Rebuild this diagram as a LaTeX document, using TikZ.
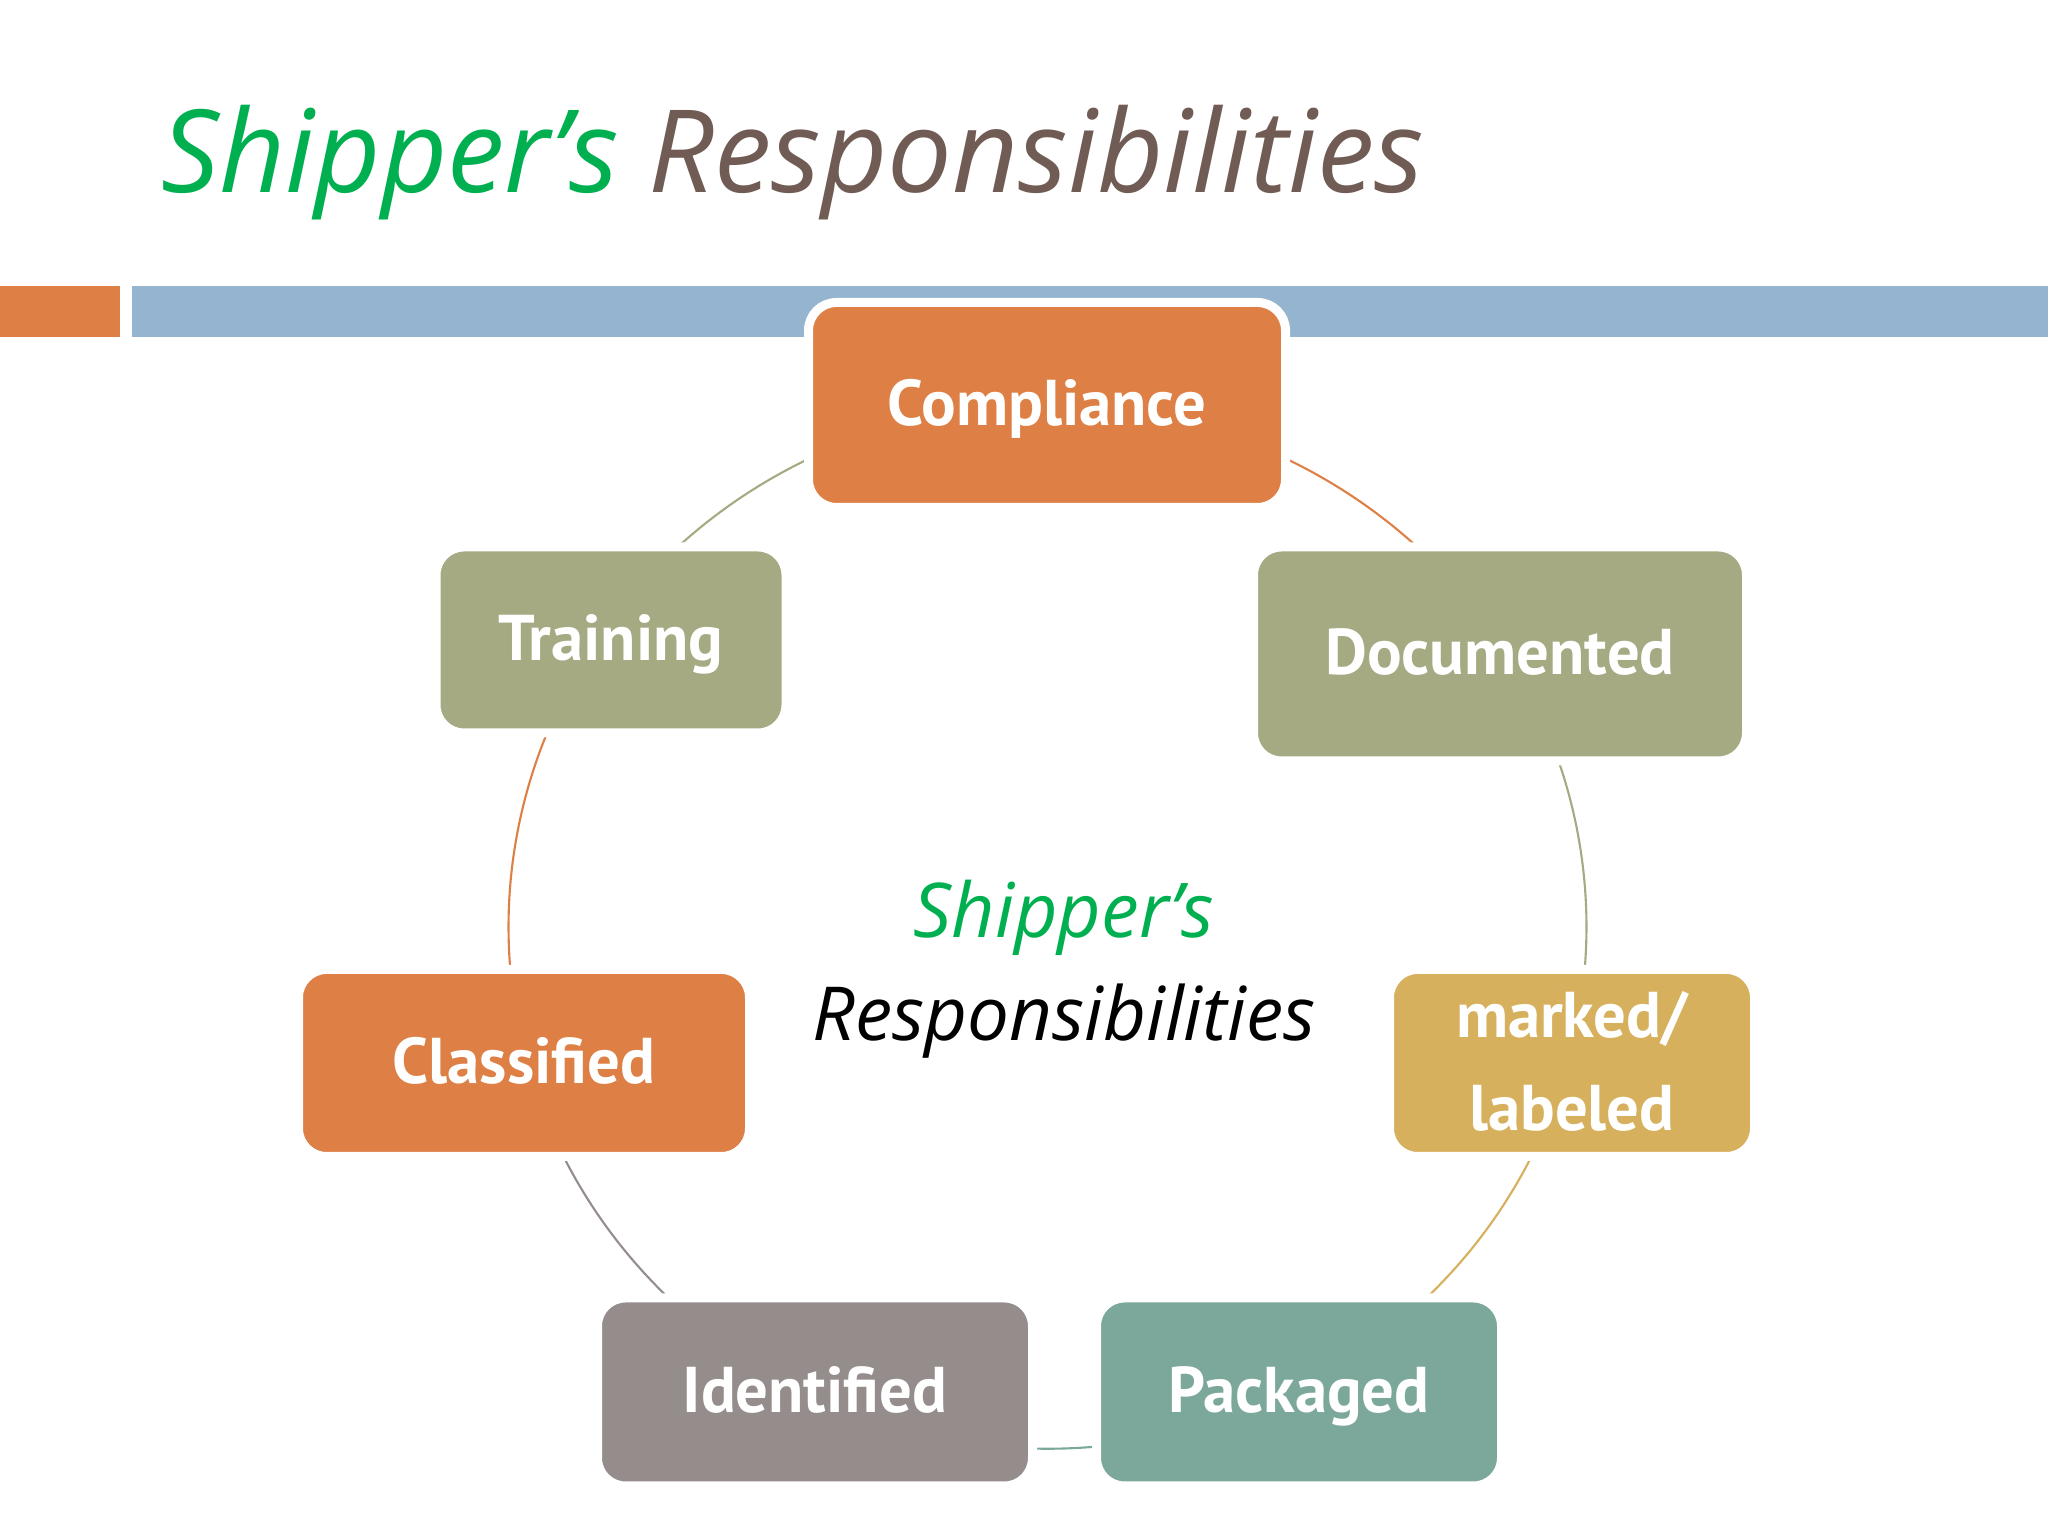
\documentclass[tikz,border=0pt]{standalone}
\usepackage{fontspec}
\newfontfamily\boxfont{PT Sans}
\newfontfamily\handfont{Open Sans}

\definecolor{corange}{HTML}{DE8046}
\definecolor{colive}{HTML}{A5AA82}
\definecolor{cgold}{HTML}{D6B05C}
\definecolor{cteal}{HTML}{7CA89B}
\definecolor{cgray}{HTML}{958C8C}
\definecolor{cbar}{HTML}{94B4CF}
\definecolor{cgreen}{HTML}{00B050}
\definecolor{cbrown}{HTML}{705C54}

\tikzset{
  etape/.style={draw=white, line width=0.9mm, rounded corners=0.28cm,
    inner sep=0pt, text=white, align=center,
    text height=0.58cm, text depth=0.16cm,
    font=\boxfont\bfseries\fontsize{18.4}{26.7}\selectfont},
  lien/.style={line width=0.6pt},
  main/.style={font=\handfont\itshape, inner sep=0pt}
}

\begin{document}
\begin{tikzpicture}

% =========================
% FOND ET BANDEAU
% =========================

\fill[white] (0,0) rectangle (20.48,15.36);
\useasboundingbox (0,0) rectangle (20.48,15.36);

\fill[corange] (0,11.99) rectangle (1.20,12.50);
\fill[cbar] (1.32,11.99) rectangle (20.48,12.50);

% =========================
% TITRE
% =========================

\node[main, anchor=base west, font=\handfont\itshape\fontsize{32.7}{38}\selectfont] (titre) at (1.61,13.43)
  {\textcolor{cgreen}{Shipper’s} \textcolor{cbrown}{Responsibilities}};

% =========================
% CERCLE
% =========================

\coordinate (ce) at (10.475,6.092);
\foreach \a/\col in {90/corange, 38.57/colive, -12.86/cgold, -64.29/cteal,
                     -115.71/cgray, -167.14/corange, -218.57/colive}{
  \pgfmathsetmacro\b{\a-51.43}
  \draw[lien, \col] (ce) ++(\a:5.39 and 5.22)
    arc[start angle=\a, end angle=\b, x radius=5.39, y radius=5.22];
}

% =========================
% ETAPES
% =========================

\node[etape, fill=corange, minimum width=4.77cm, minimum height=2.05cm] (comp) at (10.47,11.31) {Compliance};
\node[etape, fill=colive, minimum width=4.93cm, minimum height=2.14cm] (doc) at (15.00,8.82) {Documented};
\node[etape, fill=cgold, minimum width=3.65cm, minimum height=1.87cm, text height=1.52cm] (mark) at (15.72,4.73) {marked/\\labeled};
\node[etape, fill=cteal, minimum width=4.05cm, minimum height=1.88cm] (pack) at (12.99,1.44) {Packaged};
\node[etape, fill=cgray, minimum width=4.35cm, minimum height=1.88cm] (ident) at (8.15,1.44) {Identified};
\node[etape, fill=corange, minimum width=4.51cm, minimum height=1.87cm] (class) at (5.24,4.73) {Classified};
\node[etape, fill=colive, minimum width=3.50cm, minimum height=1.86cm] (train) at (6.11,8.96) {Training};

% centre
\node[main, anchor=base, text=cgreen, font=\handfont\itshape\fontsize{21.5}{25}\selectfont] (centre1) at (10.64,5.98) {Shipper’s};
\node[main, anchor=base, text=black, font=\handfont\itshape\fontsize{21.2}{25}\selectfont] (centre2) at (10.64,4.95) {Responsibilities};

\end{tikzpicture}
\end{document}
